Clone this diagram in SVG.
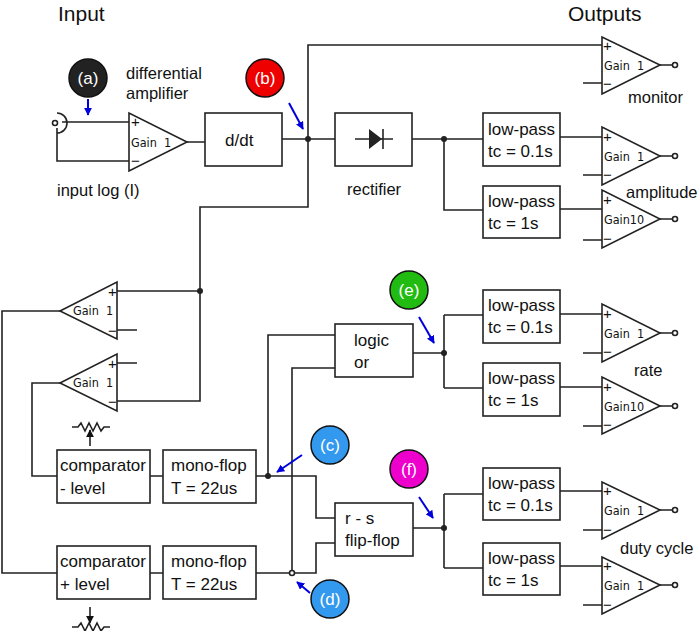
<svg xmlns="http://www.w3.org/2000/svg" width="700" height="631" viewBox="0 0 700 631">
<style>
.w{fill:none;stroke:#222;stroke-width:1.6}
.b{fill:#fff;stroke:#222;stroke-width:1.6}
.t{font-family:"Liberation Sans",Arial,sans-serif;font-size:17px;fill:#111}
.g{font-family:"DejaVu Sans Condensed","DejaVu Sans",sans-serif;font-size:12.5px;fill:#111;white-space:pre}
.s{font-family:"Liberation Sans",Arial,sans-serif;font-size:15px;fill:#111}
.l{font-family:"Liberation Sans",Arial,sans-serif;font-size:16.5px;fill:#111}
.h{font-family:"Liberation Sans",Arial,sans-serif;font-size:21px;fill:#111}
.c{font-family:"Liberation Sans",Arial,sans-serif;font-size:17px;fill:#fff;text-anchor:middle}
.ba{stroke:#0000dd;stroke-width:2;fill:none;marker-end:url(#ah)}
.d{fill:#222}
</style>
<defs>
<marker id="ah" viewBox="0 0 10 10" refX="9" refY="5" markerWidth="4" markerHeight="4" orient="auto"><path d="M0,0L10,5L0,10z" fill="#0000dd"/></marker>
<marker id="bk" viewBox="0 0 10 10" refX="9" refY="5" markerWidth="5" markerHeight="5" orient="auto"><path d="M0,0L10,5L0,10z" fill="#111"/></marker>
</defs>
<text class="h" x="58" y="21">Input</text>
<text class="h" x="568" y="21">Outputs</text>

<g id="connectors">
<path class="w" d="M62,122H129M57,128V161H129"/>
<path class="w" d="M187,142H205M282,139H335M308,139V45H602M308,139V207H200V291H117M117,330H137"/>
<path class="w" d="M137,363H117M117,401H200V291"/>
<path class="w" d="M60,311H2V573H57M60,383H32V476H57"/>
<path class="w" d="M150,476H163M256,476H316V518H337M268,476V335H335M150,573H163M256,573H316V543H337M292,573V368H335"/>
<path class="w" d="M412,139H483M444,139V210H483M560,137H602M560,209H602"/>
<path class="w" d="M413,353H444M444,315V388M444,315H483M444,388H483M560,314H602M560,387H602"/>
<path class="w" d="M413,528H444M444,494V568M444,494H483M444,568H483M560,491H602M560,566H602"/>
<circle class="d" cx="308" cy="139" r="3"/><circle class="d" cx="444" cy="139" r="3"/>
<circle class="d" cx="200" cy="291" r="3"/><circle class="d" cx="444" cy="353" r="3"/>
<circle class="d" cx="444" cy="528" r="3"/><circle class="d" cx="268" cy="476" r="3"/>
<circle class="b" cx="292" cy="573" r="2.5"/>
</g>

<g id="input">
<circle class="b" cx="55" cy="123" r="2.5"/>
<path class="w" d="M57,113A10,10 0 0 1 57,133"/>
<text class="l" x="57" y="196">input log (I)</text>
</g>
<g id="diffamp">
<path class="b" d="M129,113L129,171L187,142Z"/>
<text class="g" x="131" y="147">Gain  1</text>
<text class="s" x="131" y="127">+</text><text class="s" x="131" y="166">−</text>
<text class="l" x="126" y="79">differential</text>
<text class="l" x="126" y="99">amplifier</text>
</g>
<g id="ddt"><rect class="b" x="205" y="113" width="77" height="53"/><text class="t" x="225" y="146">d/dt</text></g>
<g id="rectifier"><rect class="b" x="335" y="113" width="77" height="53"/>
<path class="w" d="M355,139H393"/><path class="d" d="M369,129L369,149L382,139Z"/><path class="w" d="M383,129V149"/>
<text class="l" x="347" y="195">rectifier</text></g>

<g id="lp1"><rect class="b" x="483" y="113" width="77" height="53"/><text class="t" x="488" y="135">low-pass</text><text class="t" x="488" y="157">tc = 0.1s</text></g>
<g id="lp2"><rect class="b" x="483" y="186" width="77" height="52"/><text class="t" x="488" y="207">low-pass</text><text class="t" x="488" y="229">tc = 1s</text></g>
<g id="lp3"><rect class="b" x="483" y="290" width="77" height="53"/><text class="t" x="488" y="311">low-pass</text><text class="t" x="488" y="333">tc = 0.1s</text></g>
<g id="lp4"><rect class="b" x="483" y="363" width="77" height="53"/><text class="t" x="488" y="384">low-pass</text><text class="t" x="488" y="406">tc = 1s</text></g>
<g id="lp5"><rect class="b" x="483" y="468" width="77" height="52"/><text class="t" x="488" y="489">low-pass</text><text class="t" x="488" y="511">tc = 0.1s</text></g>
<g id="lp6"><rect class="b" x="483" y="543" width="77" height="52"/><text class="t" x="488" y="564">low-pass</text><text class="t" x="488" y="586">tc = 1s</text></g>

<g id="logicor"><rect class="b" x="335" y="324" width="78" height="53"/><text class="t" x="354" y="346">logic</text><text class="t" x="354" y="368">or</text></g>
<g id="rsff"><rect class="b" x="335" y="503" width="78" height="53"/><text class="t" x="345" y="524">r - s</text><text class="t" x="345" y="546">flip-flop</text></g>

<g id="compminus"><rect class="b" x="57" y="450" width="93" height="53"/><text class="t" x="60" y="471">comparator</text><text class="t" x="60" y="494">- level</text>
<path class="w" d="M72,427l6,0l3,-4l4,8l4,-8l4,8l4,-8l4,8l3,-4l6,0"/><path class="w" d="M90,446V430" marker-end="url(#bk)"/></g>
<g id="compplus"><rect class="b" x="57" y="546" width="93" height="53"/><text class="t" x="60" y="567">comparator</text><text class="t" x="60" y="590">+ level</text>
<path class="w" d="M72,627l6,0l3,-4l4,8l4,-8l4,8l4,-8l4,8l3,-4l6,0"/><path class="w" d="M90,607V623" marker-end="url(#bk)"/></g>
<g id="monominus"><rect class="b" x="163" y="450" width="93" height="53"/><text class="t" x="171" y="471">mono-flop</text><text class="t" x="171" y="494">T = 22us</text></g>
<g id="monoplus"><rect class="b" x="163" y="546" width="93" height="53"/><text class="t" x="171" y="567">mono-flop</text><text class="t" x="171" y="590">T = 22us</text></g>

<g id="ampL1"><path class="b" d="M117,282L117,339L60,311Z"/><text class="g" x="73" y="315">Gain  1</text><text class="s" x="108" y="297">+</text><text class="s" x="108" y="336">−</text></g>
<g id="ampL2"><path class="b" d="M117,354L117,411L60,383Z"/><text class="g" x="73" y="387">Gain  1</text><text class="s" x="108" y="369">+</text><text class="s" x="108" y="407">−</text></g>

<g id="outamps">
<g id="monitor"><path class="w" d="M583,83H602M660,65H672"/><path class="b" d="M602,37L602,94L660,65Z"/><circle class="b" cx="675" cy="65" r="2.5"/><text class="g" x="604" y="70">Gain  1</text><text class="s" x="603" y="51">+</text><text class="s" x="603" y="89">−</text><text class="l" x="628" y="103">monitor</text></g>
<g id="amplitude"><path class="w" d="M583,175H602M660,156H672"/><path class="b" d="M602,127L602,185L660,156Z"/><circle class="b" cx="675" cy="156" r="2.5"/><text class="g" x="604" y="161">Gain  1</text><text class="s" x="603" y="142">+</text><text class="s" x="603" y="180">−</text><text class="l" x="626" y="198">amplitude</text></g>
<g id="amp3"><path class="w" d="M583,240H602M660,219H672"/><path class="b" d="M602,190L602,248L660,219Z"/><circle class="b" cx="675" cy="219" r="2.5"/><text class="g" x="604" y="224">Gain10</text><text class="s" x="603" y="205">+</text><text class="s" x="603" y="244">−</text></g>
<g id="rate"><path class="w" d="M583,353H602M660,333H672"/><path class="b" d="M602,304L602,362L660,333Z"/><circle class="b" cx="675" cy="333" r="2.5"/><text class="g" x="604" y="338">Gain  1</text><text class="s" x="603" y="319">+</text><text class="s" x="603" y="357">−</text><text class="l" x="634" y="376">rate</text></g>
<g id="amp5"><path class="w" d="M583,426H602M660,406H672"/><path class="b" d="M602,377L602,434L660,406Z"/><circle class="b" cx="675" cy="406" r="2.5"/><text class="g" x="604" y="411">Gain10</text><text class="s" x="603" y="392">+</text><text class="s" x="603" y="430">−</text></g>
<g id="duty"><path class="w" d="M583,530H602M660,510H672"/><path class="b" d="M602,482L602,539L660,510Z"/><circle class="b" cx="675" cy="510" r="2.5"/><text class="g" x="604" y="515">Gain  1</text><text class="s" x="603" y="496">+</text><text class="s" x="603" y="535">−</text><text class="l" x="620" y="554">duty cycle</text></g>
<g id="amp7"><path class="w" d="M583,605H602M660,585H672"/><path class="b" d="M602,557L602,614L660,585Z"/><circle class="b" cx="675" cy="585" r="2.5"/><text class="g" x="604" y="590">Gain  1</text><text class="s" x="603" y="571">+</text><text class="s" x="603" y="610">−</text></g>
</g>

<g id="markers">
<g id="ma"><circle cx="88" cy="78" r="19" fill="#222" stroke="#111" stroke-width="1.5"/><text class="c" x="88" y="84">(a)</text><path class="ba" d="M88,99V115"/></g>
<g id="mb"><circle cx="265" cy="78" r="19" fill="#ee0000" stroke="#111" stroke-width="1.5"/><text class="c" x="265" y="84">(b)</text><path class="ba" d="M289,103L303,129"/></g>
<g id="mc"><circle cx="330" cy="445" r="19" fill="#3399ee" stroke="#111" stroke-width="1.5"/><text class="c" x="330" y="451">(c)</text><path class="ba" d="M302,455L277,472"/></g>
<g id="md"><circle cx="330" cy="599" r="19" fill="#3399ee" stroke="#111" stroke-width="1.5"/><text class="c" x="330" y="605">(d)</text><path class="ba" d="M310,593L297,582"/></g>
<g id="me"><circle cx="409" cy="290" r="19" fill="#22bb11" stroke="#111" stroke-width="1.5"/><text class="c" x="409" y="296">(e)</text><path class="ba" d="M419,317L434,343"/></g>
<g id="mf"><circle cx="409" cy="469" r="19" fill="#ee00cc" stroke="#111" stroke-width="1.5"/><text class="c" x="409" y="475">(f)</text><path class="ba" d="M419,497L433,518"/></g>
</g>
</svg>
